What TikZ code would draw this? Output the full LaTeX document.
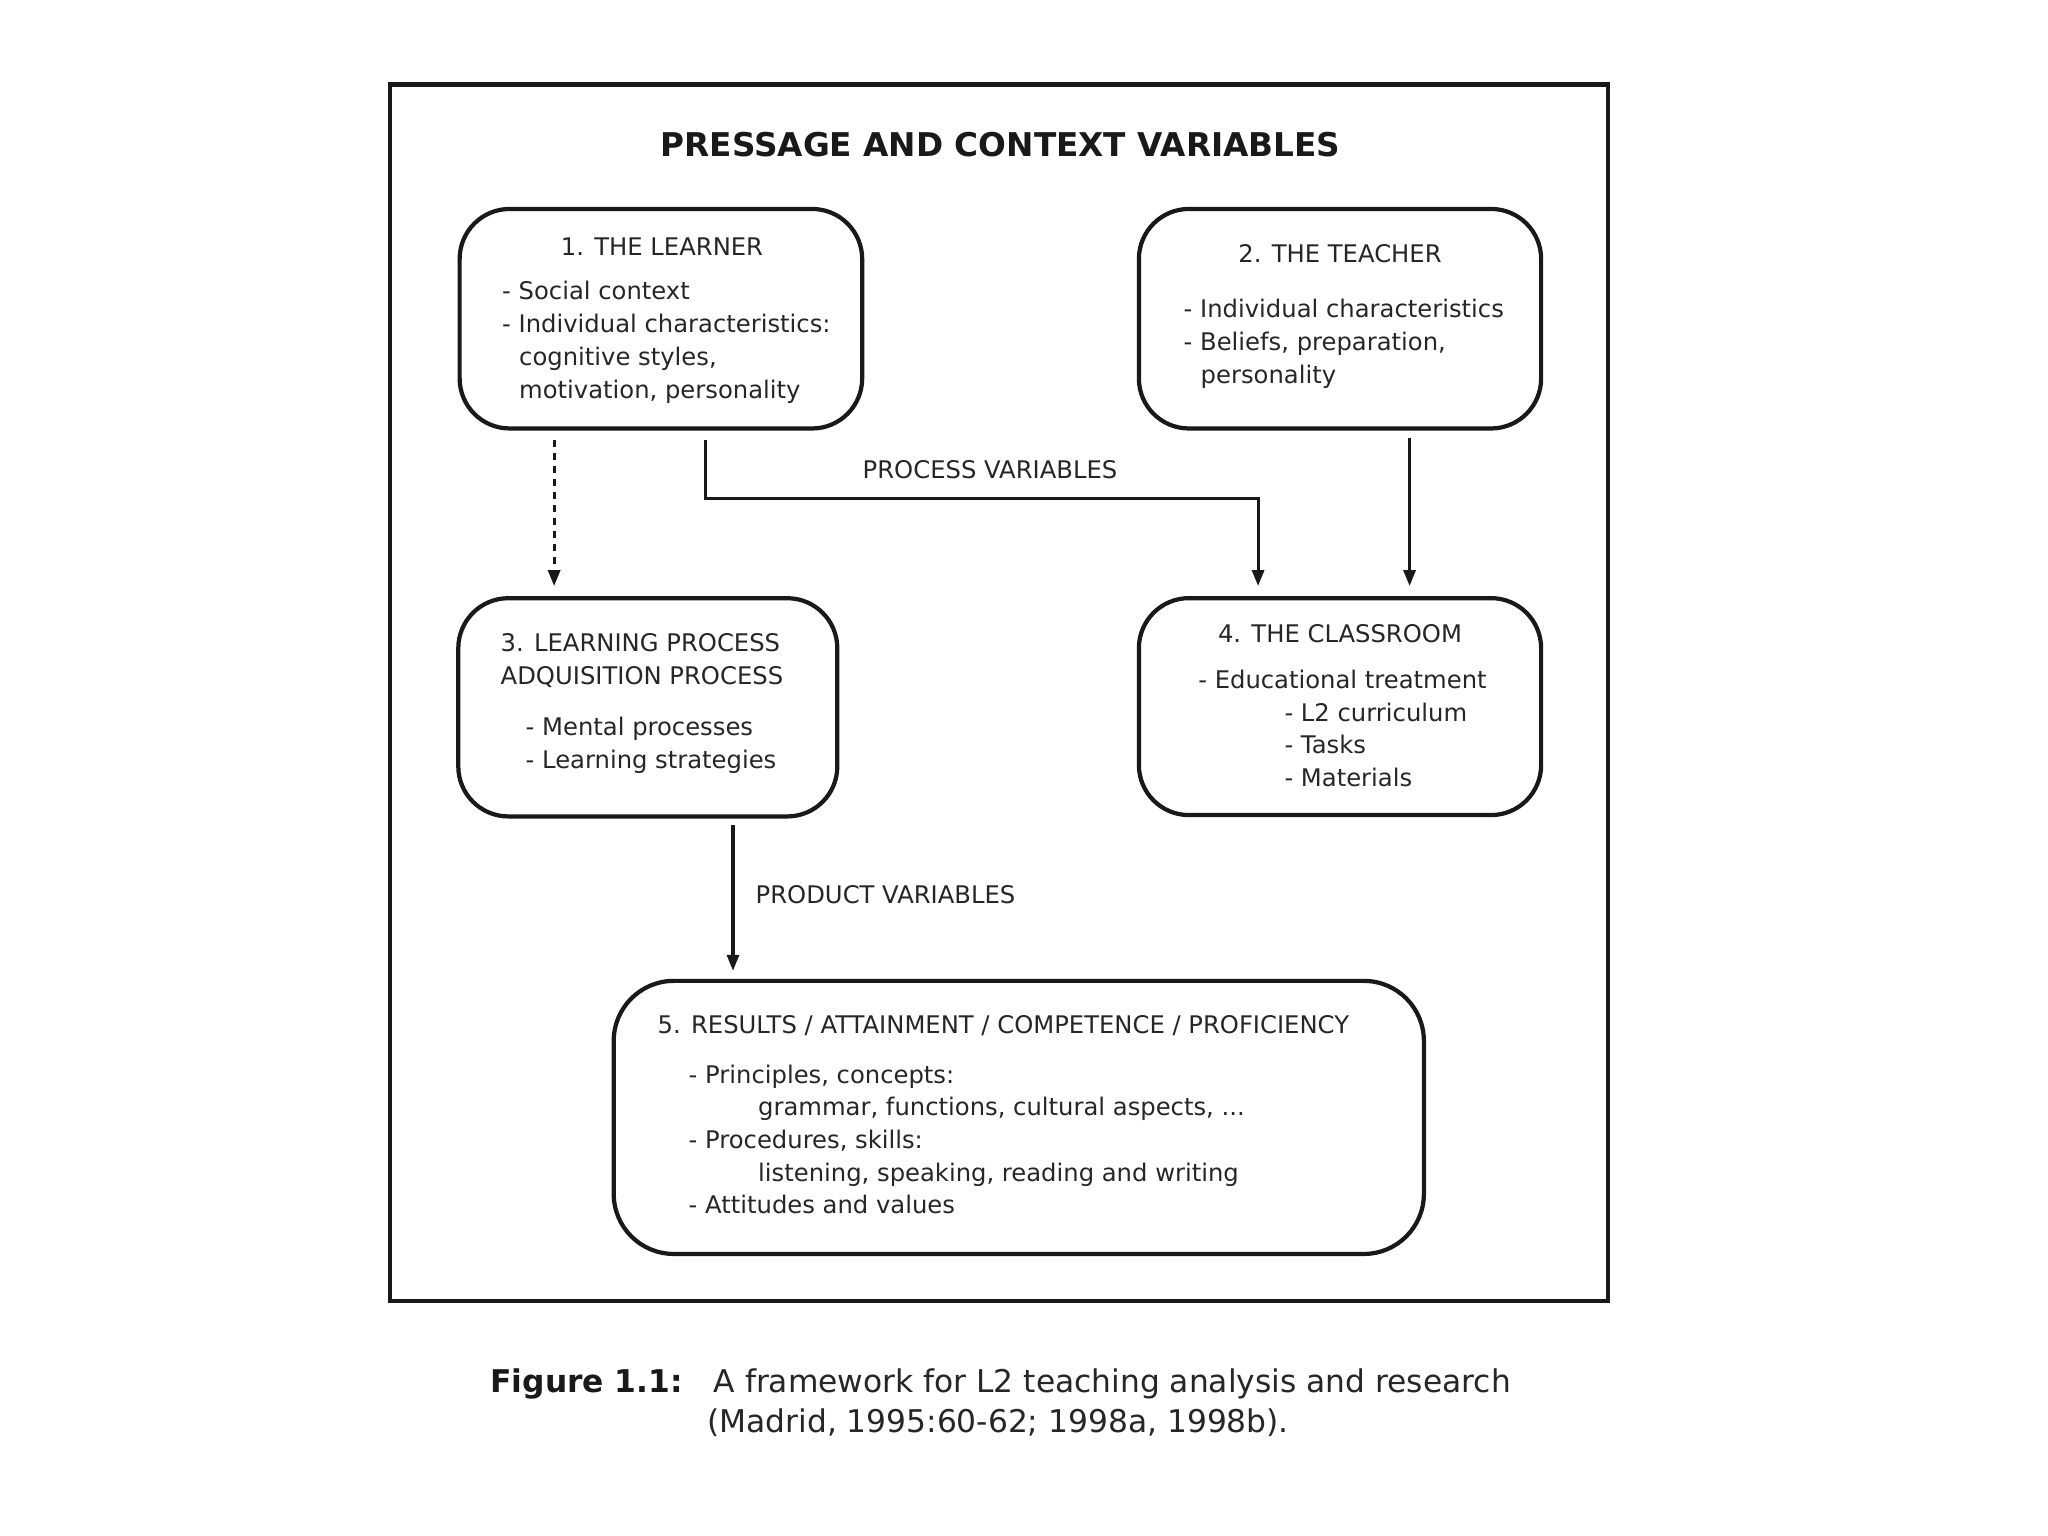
\documentclass[tikz,border=0pt]{standalone}
\usepackage{fontspec}
\setmainfont{DejaVu Sans}
\usetikzlibrary{calc,arrows.meta}
\begin{document}
\begin{tikzpicture}[x=0.01cm,y=-0.01cm,
  frame/.style={draw=black!90,line width=1.2pt,minimum width=12.173cm,minimum height=12.159cm,inner sep=0pt},
  rbox/.style={draw=black!90,line width=1.2pt,rounded corners=0.5cm,inner sep=0pt},
  txt/.style={anchor=base west,inner sep=0pt,text=black!85,font=\fontsize{6.9}{8}\selectfont},
  ctxt/.style={anchor=base,inner sep=0pt,text=black!85,font=\fontsize{6.9}{8}\selectfont},
  arr/.style={draw=black!90,line width=0.9pt,-{Triangle[length=0.16cm,width=0.12cm]},shorten >=0.1cm},
  dotarr/.style={arr,dash pattern=on 0.07cm off 0.06cm}]
\useasboundingbox (0,0) rectangle (2048,1536);
\fill[white] (0,0) rectangle (2048,1536);
% outer frame
\node[frame] (fr) at (999.2,692.9) {};
\node[anchor=base,inner sep=0pt,text=black!90,font=\fontsize{9.3}{11}\selectfont\bfseries] (title) at (1000.5,156) {PRESSAGE AND CONTEXT VARIABLES};
% boxes
\node[rbox,minimum width=4.023cm,minimum height=2.194cm] (b1) at (660.9,318.7) {};
\node[rbox,minimum width=4.02cm,minimum height=2.194cm] (b2) at (1340,318.7) {};
\node[rbox,minimum width=3.788cm,minimum height=2.181cm] (b3) at (647.8,707.3) {};
\node[rbox,minimum width=4.02cm,minimum height=2.168cm] (b4) at (1340,706.6) {};
\node[rbox,rounded corners=0.6cm,minimum width=8.097cm,minimum height=2.729cm] (b5) at (1018.8,1117.4) {};
% box 1 text
\node[ctxt] (t1a) at (662,255) {1. THE LEARNER};
\node[txt] (t1b) at (501.5,299) {- Social context};
\node[txt] (t1c) at (501.5,332) {- Individual characteristics:};
\node[txt] (t1d) at (518.5,365) {cognitive styles,};
\node[txt] (t1e) at (518.5,398) {motivation, personality};
% box 2 text
\node[ctxt] (t2a) at (1340,262) {2. THE TEACHER};
\node[txt] (t2b) at (1183,317.5) {- Individual characteristics};
\node[txt] (t2c) at (1183,350) {- Beliefs, preparation,};
\node[txt] (t2d) at (1200,383) {personality};
% box 3 text
\node[txt] (t3a) at (500,651) {3. LEARNING PROCESS};
\node[txt] (t3b) at (500,684) {ADQUISITION PROCESS};
\node[txt] (t3c) at (525,735.5) {- Mental processes};
\node[txt] (t3d) at (525,768) {- Learning strategies};
% box 4 text
\node[ctxt] (t4a) at (1340,642) {4. THE CLASSROOM};
\node[txt] (t4b) at (1197.6,688.4) {- Educational treatment};
\node[txt] (t4c) at (1283.8,721) {- L2 curriculum};
\node[txt] (t4d) at (1283.8,753.7) {- Tasks};
\node[txt] (t4e) at (1283.8,786.4) {- Materials};
% box 5 text
\node[txt] (t5a) at (657,1033) {5. RESULTS / ATTAINMENT / COMPETENCE / PROFICIENCY};
\node[txt] (t5b) at (688,1083) {- Principles, concepts:};
\node[txt] (t5c) at (757.5,1115.5) {grammar, functions, cultural aspects, ...};
\node[txt] (t5d) at (688,1148) {- Procedures, skills:};
\node[txt] (t5e) at (757.5,1181) {listening, speaking, reading and writing};
\node[txt] (t5f) at (688,1213.5) {- Attitudes and values};
% connector labels
\node[ctxt] (pv) at (990,478) {PROCESS VARIABLES};
\node[txt] (prv) at (755,903) {PRODUCT VARIABLES};
% connectors
\coordinate (d1) at ($(b1.south west)+(96.6,9)$);
\coordinate (d2) at (d1 |- b3.north);
\draw[dotarr] (d1) -- (d2);
\coordinate (p1) at ($(b1.south west)+(248.1,9)$);
\coordinate (p3) at ($(b4.north west)+(121.3,0)$);
\draw[arr] (p1) -- ++(0,59) -| (p3);
\coordinate (q1) at ($(b2.south west)+(272.8,7)$);
\draw[arr] (q1) -- (q1 |- b4.north);
\coordinate (r1) at ($(b3.south west)+(276.8,6.5)$);
\draw[arr,shorten >=0.08cm] (r1) -- (r1 |- b5.north);
% caption
\node[anchor=base west,inner sep=0pt,text=black!90,font=\fontsize{8.9}{10}\selectfont\bfseries] (capa) at (489.8,1392) {Figure 1.1:};
\node[anchor=base west,inner sep=0pt,text=black!85,font=\fontsize{8.9}{10}\selectfont] (capb) at (713,1392) {A framework for L2 teaching analysis and research};
\node[anchor=base west,inner sep=0pt,text=black!85,font=\fontsize{8.9}{10}\selectfont] (capc) at (706.6,1432) {(Madrid, 1995:60-62; 1998a, 1998b).};
\end{tikzpicture}
\end{document}
